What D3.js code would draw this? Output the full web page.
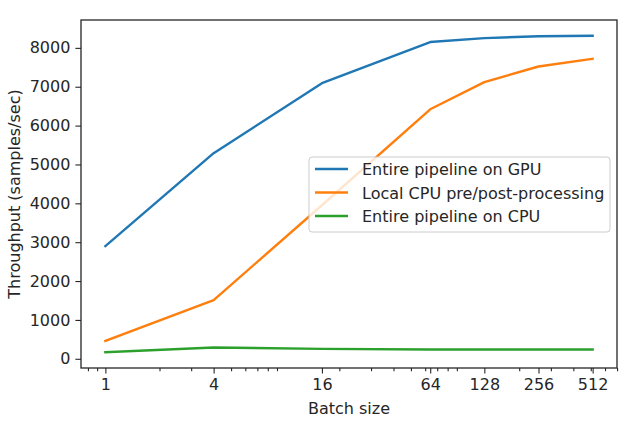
<!DOCTYPE html>
<html>
<head>
<meta charset="utf-8">
<script src="https://cdn.jsdelivr.net/npm/d3@7"></script>
<style>
  body { margin: 0; background: #fff; }
  svg text { font-family: "DejaVu Sans", sans-serif; fill: #262626; }
</style>
</head>
<body>
<div id="chart"></div>
<script>
// ---- data ----
const batchSizes = [1, 4, 16, 64, 128, 256, 512];
const gpuPipeline = [2900, 5290, 7090, 8150, 8250, 8300, 8310];
const localCpuPrePost = [460, 1510, 3950, 6420, 7120, 7520, 7720];
const cpuPipeline = [170, 290, 255, 240, 240, 240, 240];

const seriesNames = ['Entire pipeline on GPU', 'Local CPU pre/post-processing', 'Entire pipeline on CPU'];
const yTicks = [0, 1000, 2000, 3000, 4000, 5000, 6000, 7000, 8000];
const xMinorTicks = [0.8, 0.9, 2, 3, 5, 6, 7, 8, 9, 20, 30, 40, 50, 60, 70, 80, 90,
                     200, 300, 400, 500, 600, 700];

const colors = ['#1f77b4', '#ff7f0e', '#2ca02c'];

const width = 625, height = 421;
const margin = { top: 20, right: 8, bottom: 53, left: 81 };
const innerW = width - margin.left - margin.right;
const innerH = height - margin.top - margin.bottom;

const series = [gpuPipeline, localCpuPrePost, cpuPipeline].map((vals, i) => ({
  name: seriesNames[i],
  points: batchSizes.map((b, j) => ({ x: b, y: vals[j] }))
}));

// matplotlib-like 5% margins (in log space on x)
const lx = d3.extent(batchSizes).map(Math.log2);
const padX = (lx[1] - lx[0]) * 0.05;
const allY = series.flatMap(s => s.points.map(p => p.y));
const ey = d3.extent(allY);
const padY = (ey[1] - ey[0]) * 0.05;

const x = d3.scaleLog().base(2)
  .domain([2 ** (lx[0] - padX), 2 ** (lx[1] + padX)])
  .range([0, innerW]);
const y = d3.scaleLinear()
  .domain([ey[0] - padY, ey[1] + padY])
  .range([innerH, 0]);

const svg = d3.select('#chart').append('svg')
  .attr('width', width).attr('height', height);

const g = svg.append('g').attr('transform', `translate(${margin.left},${margin.top})`);

// lines
const line = d3.line().x(d => x(d.x)).y(d => y(d.y));
g.selectAll('path.series')
  .data(series)
  .join('path')
  .attr('class', 'series')
  .attr('fill', 'none')
  .attr('stroke', (d, i) => colors[i])
  .attr('stroke-width', 2.4)
  .attr('stroke-linejoin', 'round')
  .attr('stroke-linecap', 'square')
  .attr('d', d => line(d.points));

// axes
const xAxis = d3.axisBottom(x).tickValues(batchSizes).tickFormat(d3.format('d'))
  .tickSize(5.6).tickPadding(5);
const xMinor = d3.axisBottom(x).tickValues(xMinorTicks).tickFormat('').tickSize(3.2);
const yAxis = d3.axisLeft(y).tickValues(yTicks).tickFormat(d3.format('d'))
  .tickSize(5.6).tickPadding(5);

const styleAxis = sel => {
  sel.select('.domain').remove();
  sel.selectAll('line').attr('stroke', '#262626').attr('stroke-width', 1.1);
  sel.selectAll('text').attr('font-size', 16).attr('fill', '#262626')
    .style('font-family', '"DejaVu Sans", sans-serif');
};

g.append('g').attr('transform', `translate(0,${innerH})`).call(xMinor).call(styleAxis);
g.append('g').attr('transform', `translate(0,${innerH})`).call(xAxis).call(styleAxis);
g.append('g').call(yAxis).call(styleAxis);

// frame
g.append('rect')
  .attr('width', innerW).attr('height', innerH)
  .attr('fill', 'none').attr('stroke', '#262626').attr('stroke-width', 1.3);

// axis labels
svg.append('text')
  .attr('x', margin.left + innerW / 2).attr('y', 414)
  .attr('text-anchor', 'middle').attr('font-size', 16)
  .text('Batch size');

svg.append('text')
  .attr('transform', `translate(20,${margin.top + innerH / 2}) rotate(-90)`)
  .attr('text-anchor', 'middle').attr('font-size', 16)
  .text('Throughput (samples/sec)');

// legend
const legend = svg.append('g').attr('transform', 'translate(309,157)');
legend.append('rect')
  .attr('width', 301).attr('height', 75).attr('rx', 3)
  .attr('fill', 'rgba(255,255,255,0.8)')
  .attr('stroke', '#cccccc').attr('stroke-width', 1);

const items = legend.selectAll('g.item')
  .data(series)
  .join('g')
  .attr('class', 'item')
  .attr('transform', (d, i) => `translate(0,${12 + i * 23.5})`);

items.append('line')
  .attr('x1', 6).attr('x2', 39)
  .attr('stroke', (d, i) => colors[i]).attr('stroke-width', 2.4);

items.append('text')
  .attr('x', 53).attr('y', 6)
  .attr('font-size', 16)
  .text(d => d.name);
</script>
</body>
</html>
